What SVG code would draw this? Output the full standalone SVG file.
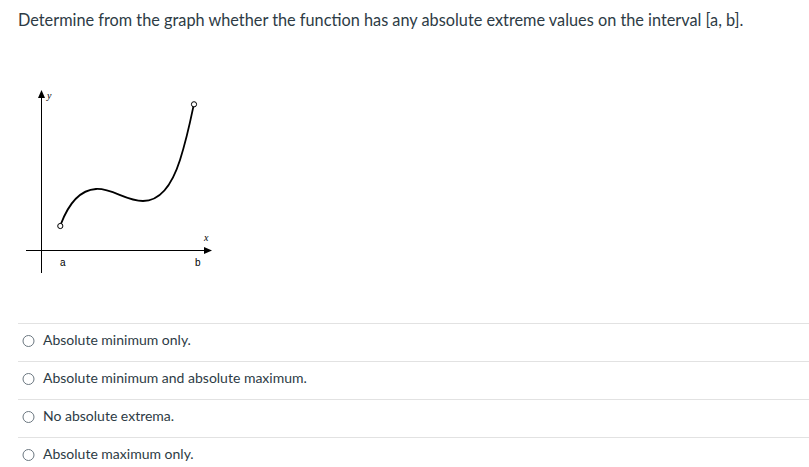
<svg xmlns="http://www.w3.org/2000/svg" width="809" height="467" viewBox="0 0 809 467">
<style>
.t{font-family:Lato,"Open Sans",sans-serif;fill:#2d3b45}
.q{font-size:16.3px}
.o{font-size:14px}
.sep{stroke:#e2e2e2;stroke-width:1}
.rb{fill:#fff;stroke:#6b7780;stroke-width:1}
.ax{stroke:#000;stroke-width:1;fill:none}
.lbl{font-family:"Liberation Sans",Arial,sans-serif;font-size:10px;fill:#000}
.var{font-family:"Liberation Serif","Times New Roman",serif;font-style:italic;font-size:10px;fill:#000}
</style>
<rect width="809" height="467" fill="#fff"/>
<text class="t q" x="18" y="26">Determine from the graph whether the function has any absolute extreme values on the interval [a, b].</text>
<g id="graph">
<line class="ax" x1="41.5" y1="96" x2="41.5" y2="273"/>
<polygon points="41.5,90 38,98 45,98" fill="#000"/>
<line class="ax" x1="26" y1="250.5" x2="206" y2="250.5"/>
<polygon points="212,250.5 204,247 204,254" fill="#000"/>
<text class="var" x="47" y="99">y</text>
<text class="var" x="204" y="241">x</text>
<text class="lbl" x="60" y="266">a</text>
<text class="lbl" x="195" y="266">b</text>
<path d="M60.5,225 C68,205 80,190 96,189 C112,188 126,201 143,201 C160,201 172,185 180,160 C187,138 191,118 193.5,106" fill="none" stroke="#000" stroke-width="1.8"/>
<circle cx="60.3" cy="226" r="2.6" fill="#fff" stroke="#000" stroke-width="1"/>
<circle cx="194" cy="104.3" r="2.6" fill="#fff" stroke="#000" stroke-width="1"/>
</g>
<g id="options">
<line class="sep" x1="18" y1="323.5" x2="809" y2="323.5"/>
<line class="sep" x1="18" y1="361.5" x2="809" y2="361.5"/>
<line class="sep" x1="18" y1="399.5" x2="809" y2="399.5"/>
<line class="sep" x1="18" y1="437.5" x2="809" y2="437.5"/>
<circle class="rb" cx="28.5" cy="341" r="5.5"/>
<circle class="rb" cx="28.5" cy="379" r="5.5"/>
<circle class="rb" cx="28.5" cy="417" r="5.5"/>
<circle class="rb" cx="28.5" cy="455" r="5.5"/>
<text class="t o" x="43" y="345">Absolute minimum only.</text>
<text class="t o" x="43" y="383">Absolute minimum and absolute maximum.</text>
<text class="t o" x="43" y="421">No absolute extrema.</text>
<text class="t o" x="43" y="459">Absolute maximum only.</text>
</g>
</svg>
